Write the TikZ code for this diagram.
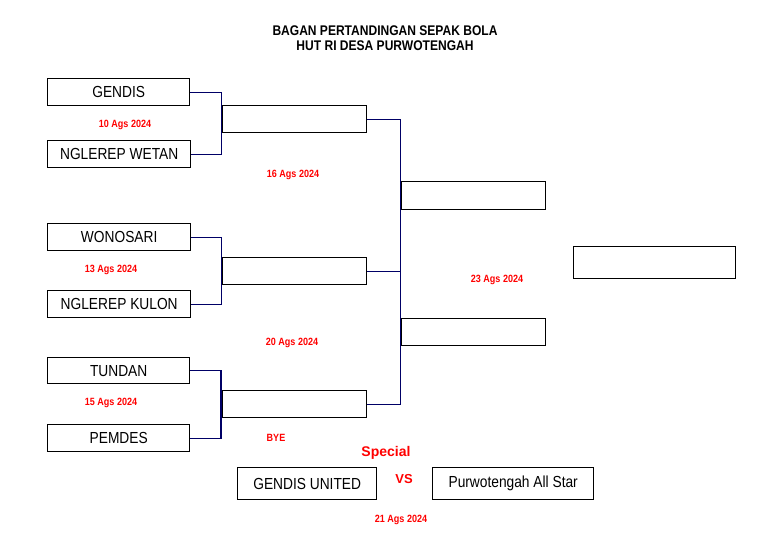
\documentclass[tikz,border=0pt]{standalone}
\usepackage{fontspec}
\setmainfont{Liberation Sans}
\newfontfamily\narrowfont[FakeStretch=0.86]{Liberation Sans}
\begin{document}
\begin{tikzpicture}[x=1pt,y=-1pt,
  team/.style={draw,line width=1.4pt,anchor=north west,inner sep=0pt,font=\narrowfont\fontsize{16}{18}\selectfont},
  datelbl/.style={text=red,font=\narrowfont\bfseries\fontsize{10.5}{12}\selectfont},
  conn/.style={draw=blue!40!black,line width=0.8pt}]
\useasboundingbox (0,0) rectangle (768,543);
\node[font=\narrowfont\bfseries\fontsize{14}{15.5}\selectfont,align=center] (title) at (385,38) {BAGAN PERTANDINGAN SEPAK BOLA\\HUT RI DESA PURWOTENGAH};
\newcommand{\tbox}[6]{\node[team,minimum width=#4-#2,minimum height=#5-#3] (#1) at (#2,#3) {#6};}
\tbox{a}{47}{78}{189}{105}{GENDIS}
\tbox{b}{47}{140}{190}{167}{NGLEREP WETAN}
\tbox{c}{47}{223}{190}{250}{WONOSARI}
\tbox{d}{47}{290}{190}{317}{NGLEREP KULON}
\tbox{e}{47}{357}{189}{383}{TUNDAN}
\tbox{f}{47}{424}{189}{451}{PEMDES}
\tbox{r1}{222}{105}{366}{132}{}
\tbox{r2}{222}{257}{366}{284}{}
\tbox{r3}{222}{390}{366}{417}{}
\tbox{s1}{401}{181}{545}{209}{}
\tbox{s2}{401}{318}{545}{345}{}
\tbox{fin}{573}{246}{735}{278}{}
\tbox{g1}{237}{467}{376}{499}{GENDIS UNITED}
\tbox{g2}{432}{467}{593}{499}{Purwotengah All Star}
\coordinate (j1) at (221,0);
\coordinate (j2) at (400,0);
\draw[conn] (a.east) -| (j1 |- b.east) -- (b.east);
\draw[conn] (c.east) -| (j1 |- d.east) -- (d.east);
\draw[conn,line width=1.4pt] (e.east) -| (j1 |- f.east) -- (f.east);
\draw[conn] (r1.east) -| (j2 |- r3.east) -- (r3.east);
\draw[conn,line width=1.4pt] (r2.east) -- (j2 |- r2.east);
\node[datelbl] (d1) at (125,125) {10 Ags 2024};
\node[datelbl] (d2) at (293,175) {16 Ags 2024};
\node[datelbl] (d3) at (111,270) {13 Ags 2024};
\node[datelbl] (d4) at (292,343) {20 Ags 2024};
\node[datelbl] (d5) at (111,403) {15 Ags 2024};
\node[datelbl] (bye) at (276,438) {BYE};
\node[datelbl] (d6) at (497,280) {23 Ags 2024};
\node[datelbl] (d7) at (401,520) {21 Ags 2024};
\node[text=red,font=\bfseries\fontsize{14}{16}\selectfont] (sp) at (386,453) {Special};
\node[text=red,font=\bfseries\fontsize{13}{15}\selectfont] (vs) at (404,479) {VS};
\end{tikzpicture}
\end{document}
